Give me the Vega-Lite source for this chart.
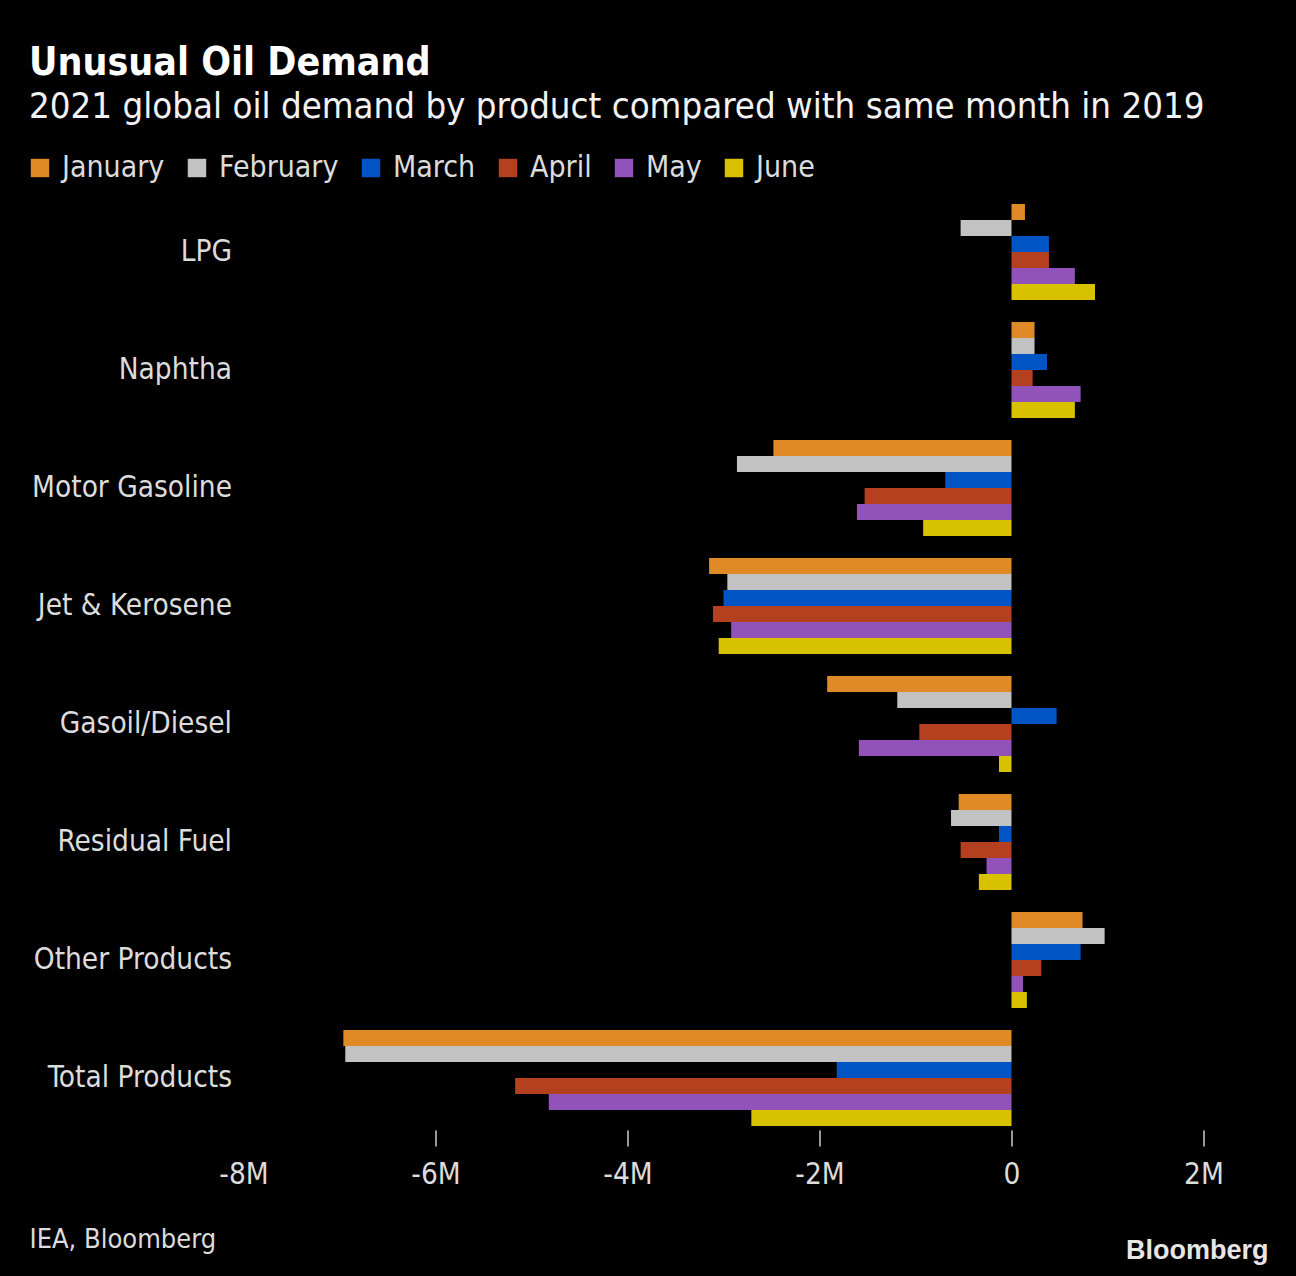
{
  "$schema": "https://vega.github.io/schema/vega-lite/v6.json",
  "background": "#000000",
  "autosize": "none",
  "width": 960,
  "height": 930,
  "padding": {"left": 243.5, "top": 200, "right": 92.5, "bottom": 146},
  "title": {
    "text": "Unusual Oil Demand",
    "subtitle": "2021 global oil demand by product compared with same month in 2019",
    "anchor": "start",
    "frame": "group",
    "dx": -214.5,
    "offset": 28,
    "font": "DejaVu Sans Condensed",
    "fontSize": 39,
    "fontWeight": "bold",
    "color": "#ffffff",
    "subtitleFont": "DejaVu Sans Condensed",
    "subtitleFontSize": 36.3,
    "subtitleColor": "#f2f2f2",
    "subtitlePadding": 6
  },
  "data": {
    "values": [
      {"product": "LPG", "month": "January", "change": 0.14},
      {"product": "LPG", "month": "February", "change": -0.53},
      {"product": "LPG", "month": "March", "change": 0.39},
      {"product": "LPG", "month": "April", "change": 0.39},
      {"product": "LPG", "month": "May", "change": 0.66},
      {"product": "LPG", "month": "June", "change": 0.87},
      {"product": "Naphtha", "month": "January", "change": 0.24},
      {"product": "Naphtha", "month": "February", "change": 0.24},
      {"product": "Naphtha", "month": "March", "change": 0.37},
      {"product": "Naphtha", "month": "April", "change": 0.22},
      {"product": "Naphtha", "month": "May", "change": 0.72},
      {"product": "Naphtha", "month": "June", "change": 0.66},
      {"product": "Motor Gasoline", "month": "January", "change": -2.48},
      {"product": "Motor Gasoline", "month": "February", "change": -2.86},
      {"product": "Motor Gasoline", "month": "March", "change": -0.69},
      {"product": "Motor Gasoline", "month": "April", "change": -1.53},
      {"product": "Motor Gasoline", "month": "May", "change": -1.61},
      {"product": "Motor Gasoline", "month": "June", "change": -0.92},
      {"product": "Jet & Kerosene", "month": "January", "change": -3.15},
      {"product": "Jet & Kerosene", "month": "February", "change": -2.96},
      {"product": "Jet & Kerosene", "month": "March", "change": -3.0},
      {"product": "Jet & Kerosene", "month": "April", "change": -3.11},
      {"product": "Jet & Kerosene", "month": "May", "change": -2.92},
      {"product": "Jet & Kerosene", "month": "June", "change": -3.05},
      {"product": "Gasoil/Diesel", "month": "January", "change": -1.92},
      {"product": "Gasoil/Diesel", "month": "February", "change": -1.19},
      {"product": "Gasoil/Diesel", "month": "March", "change": 0.47},
      {"product": "Gasoil/Diesel", "month": "April", "change": -0.96},
      {"product": "Gasoil/Diesel", "month": "May", "change": -1.59},
      {"product": "Gasoil/Diesel", "month": "June", "change": -0.13},
      {"product": "Residual Fuel", "month": "January", "change": -0.55},
      {"product": "Residual Fuel", "month": "February", "change": -0.63},
      {"product": "Residual Fuel", "month": "March", "change": -0.13},
      {"product": "Residual Fuel", "month": "April", "change": -0.53},
      {"product": "Residual Fuel", "month": "May", "change": -0.26},
      {"product": "Residual Fuel", "month": "June", "change": -0.34},
      {"product": "Other Products", "month": "January", "change": 0.74},
      {"product": "Other Products", "month": "February", "change": 0.97},
      {"product": "Other Products", "month": "March", "change": 0.72},
      {"product": "Other Products", "month": "April", "change": 0.31},
      {"product": "Other Products", "month": "May", "change": 0.12},
      {"product": "Other Products", "month": "June", "change": 0.16},
      {"product": "Total Products", "month": "January", "change": -6.96},
      {"product": "Total Products", "month": "February", "change": -6.94},
      {"product": "Total Products", "month": "March", "change": -1.82},
      {"product": "Total Products", "month": "April", "change": -5.17},
      {"product": "Total Products", "month": "May", "change": -4.82},
      {"product": "Total Products", "month": "June", "change": -2.71}
    ]
  },
  "mark": {"type": "bar", "clip": false},
  "encoding": {
    "y": {
      "field": "product",
      "type": "nominal",
      "sort": ["LPG", "Naphtha", "Motor Gasoline", "Jet & Kerosene", "Gasoil/Diesel", "Residual Fuel", "Other Products", "Total Products"],
      "scale": {"paddingInner": 0.186, "paddingOuter": 0.034},
      "axis": {
        "title": "Bloomberg",
        "titleAngle": 0,
        "titleX": 1024.5,
        "titleY": 1058,
        "titleAlign": "right",
        "titleBaseline": "alphabetic",
        "titleFont": "Liberation Sans",
        "titleFontSize": 27,
        "titleFontWeight": "bold",
        "titleColor": "#e6e6e6",
        "domain": false,
        "ticks": false,
        "grid": false,
        "labelPadding": 12,
        "labelFont": "DejaVu Sans Condensed",
        "labelFontSize": 29.5,
        "labelColor": "#dcdcdc",
        "labelLimit": 400
      }
    },
    "yOffset": {
      "field": "month",
      "type": "nominal",
      "sort": ["January", "February", "March", "April", "May", "June"],
      "scale": {"paddingInner": 0, "paddingOuter": 0}
    },
    "x": {
      "field": "change",
      "type": "quantitative",
      "scale": {"domain": [-8, 2], "nice": false, "zero": false},
      "axis": {
        "values": [-8, -6, -4, -2, 0, 2],
        "labelExpr": "datum.value == 0 ? '0' : (datum.value < 0 ? '-' : '') + abs(datum.value) + 'M'",
        "labelFlush": false,
        "labelOverlap": false,
        "title": "IEA, Bloomberg",
        "titleAnchor": "start",
        "titleAlign": "left",
        "titleBaseline": "alphabetic",
        "titleX": -214.5,
        "titleY": 117,
        "titleFont": "DejaVu Sans Condensed",
        "titleFontSize": 27,
        "titleFontWeight": "normal",
        "titleColor": "#dcdcdc",
        "domain": false,
        "grid": false,
        "tickSize": 16,
        "tickWidth": 1.5,
        "tickColor": {"condition": {"test": "datum.value == -8", "value": "transparent"}, "value": "#cfcfcf"},
        "labelPadding": 14,
        "labelFont": "DejaVu Sans Condensed",
        "labelFontSize": 29.5,
        "labelColor": "#dcdcdc"
      }
    },
    "color": {
      "field": "month",
      "type": "nominal",
      "sort": ["January", "February", "March", "April", "May", "June"],
      "scale": {
        "domain": ["January", "February", "March", "April", "May", "June"],
        "range": ["#df8a27", "#c2c2c2", "#0054c3", "#b54020", "#9153b9", "#d8c100"]
      },
      "legend": {
        "title": null,
        "orient": "none",
        "direction": "horizontal",
        "columns": 6,
        "legendX": -218.5,
        "legendY": -47,
        "symbolType": "square",
        "symbolSize": 340,
        "symbolStrokeWidth": 0,
        "labelFont": "DejaVu Sans Condensed",
        "labelFontSize": 30,
        "labelColor": "#dcdcdc",
        "labelOffset": 7,
        "columnPadding": 17
      }
    }
  },
  "config": {
    "view": {"stroke": null}
  }
}
